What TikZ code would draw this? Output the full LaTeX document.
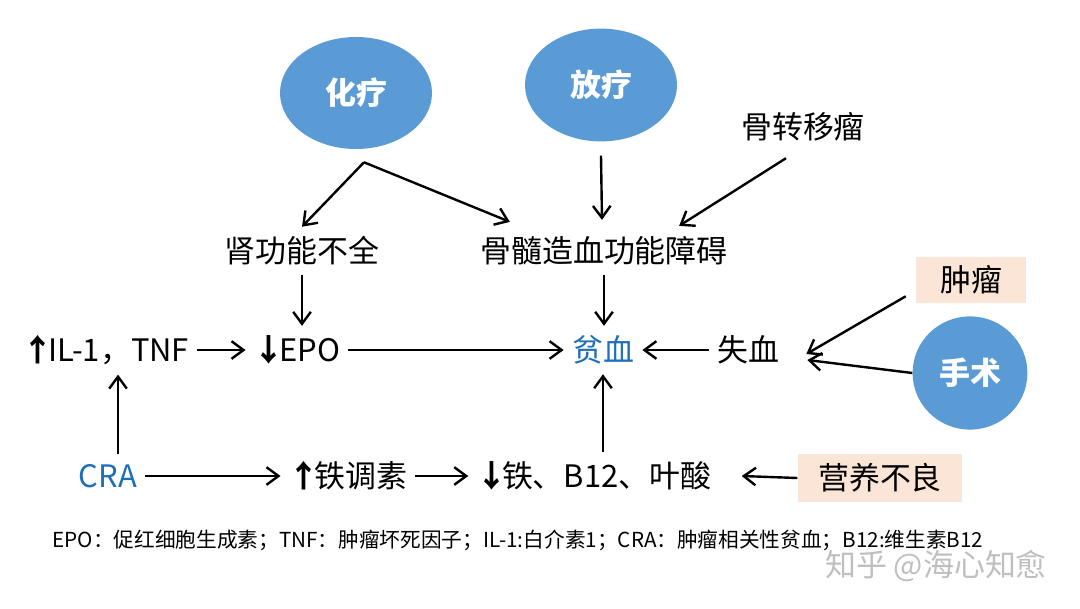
\documentclass[tikz,border=0pt]{standalone}
\usepackage{fontspec}
\usetikzlibrary{arrows.meta,shapes.geometric,calc}
\newfontfamily\cjk{Noto Sans CJK SC}
\definecolor{bubble}{RGB}{91,155,213}
\definecolor{peach}{RGB}{251,229,214}
\definecolor{keyblue}{RGB}{30,110,185}
\newcommand\myup{{\bfseries ↑}\kern-4pt}
\newcommand\mydown{{\bfseries ↓}\kern-4pt}
\begin{document}
\begin{tikzpicture}[x=0.25mm,y=-0.25mm,
  lbl/.style={font=\cjk\fontsize{22}{26}\selectfont, inner sep=0pt, outer xsep=6pt, outer ysep=7pt},
  bubblenode/.style={ellipse, fill=bubble, text=white, font=\cjk\bfseries\fontsize{22}{26}\selectfont, inner sep=0pt},
  peachbox/.style={rectangle, fill=peach, font=\cjk\fontsize{22}{26}\selectfont, inner sep=0pt},
  arr/.style={-{Straight Barb[length=3mm,width=4.4mm,line width=0.6mm]}, line width=0.6mm}
]
\useasboundingbox[fill=white] (0,0) rectangle (1080,608);

% bubbles
\node[bubblenode, minimum width=38mm, minimum height=28mm] (chemo) at (356,93) {化疗};
\node[bubblenode, minimum width=38mm, minimum height=28.2mm] (radio) at (601,85) {放疗};
\node[bubblenode, minimum width=28.7mm, minimum height=28.3mm] (surgery) at (970,373) {手术};

% boxes
\node[peachbox, minimum width=27.5mm, minimum height=11.5mm] (tumor) at (971,280) {肿瘤};
\node[peachbox, minimum width=41.2mm, minimum height=12mm] (malnut) at (880,478) {营养不良};

% labels
\node[lbl] (bonemet) at (803,127) {骨转移瘤};
\node[lbl] (kidney) at (302,251) {肾功能不全};
\node[lbl] (marrow) at (604,251) {骨髓造血功能障碍};
\node[lbl] (il) at (106,350) {\myup IL-1，TNF};
\node[lbl] (epo) at (297,350) {\mydown EPO};
\node[lbl, text=keyblue] (anemia) at (603,350) {贫血};
\node[lbl] (loss) at (748,350) {失血};
\node[lbl, text=keyblue] (cra) at (108,476) {CRA};
\node[lbl] (hepcidin) at (348,476) {\myup 铁调素};
\node[lbl] (iron) at (594,476) {\mydown 铁、B12、叶酸};

% connectors
\coordinate (split) at ($(chemo.south)+(8,13)$);
\draw[arr] (split) -- ($(kidney.north)+(0,0)$);
\draw[arr] (split) -- ($(marrow.north west)+(38,-5)$);
\draw[arr] ($(radio.south)+(0,14)$) -- ($(marrow.north)+(-2,-7)$);
\draw[arr] ($(bonemet.south)+(-17,7)$) -- ($(marrow.north east)+(-57,-1)$);
\draw[arr] (kidney.south) -- (kidney.south |- epo.north);
\draw[arr] (marrow.south) -- (marrow.south |- anemia.north);
\draw[arr] (il) -- (epo);
\draw[arr] (epo) -- (anemia);
\draw[arr] (loss) -- (anemia);
\draw[arr] ($(tumor.south west)+(-10,-7)$) -- ($(loss.east)+(19,4)$);
\draw[arr] (surgery.west) -- ($(loss.east)+(20,10)$);
\coordinate (craup) at ($(cra.north)+(10,0)$);
\draw[arr] (craup) -- (craup |- il.south);
\draw[arr] (cra) -- (hepcidin);
\draw[arr] (hepcidin) -- (iron);
\draw[arr] (malnut.west) -- ($(iron.east)+(22,0)$);
\draw[arr] (anemia.south |- iron.north) -- (anemia.south);

% footnote and watermark
\node[font=\cjk\fontsize{14.7}{17}\selectfont, inner sep=0pt] (note) at (518,540)
  {EPO：促红细胞生成素；TNF：肿瘤坏死因子；IL-1:白介素1；CRA：肿瘤相关性贫血；B12:维生素B12};
\node[font=\cjk\fontsize{22}{25}\selectfont, text=black!25, inner sep=0pt] (mark) at (936,566) {知乎 @海心知愈};
\end{tikzpicture}
\end{document}
